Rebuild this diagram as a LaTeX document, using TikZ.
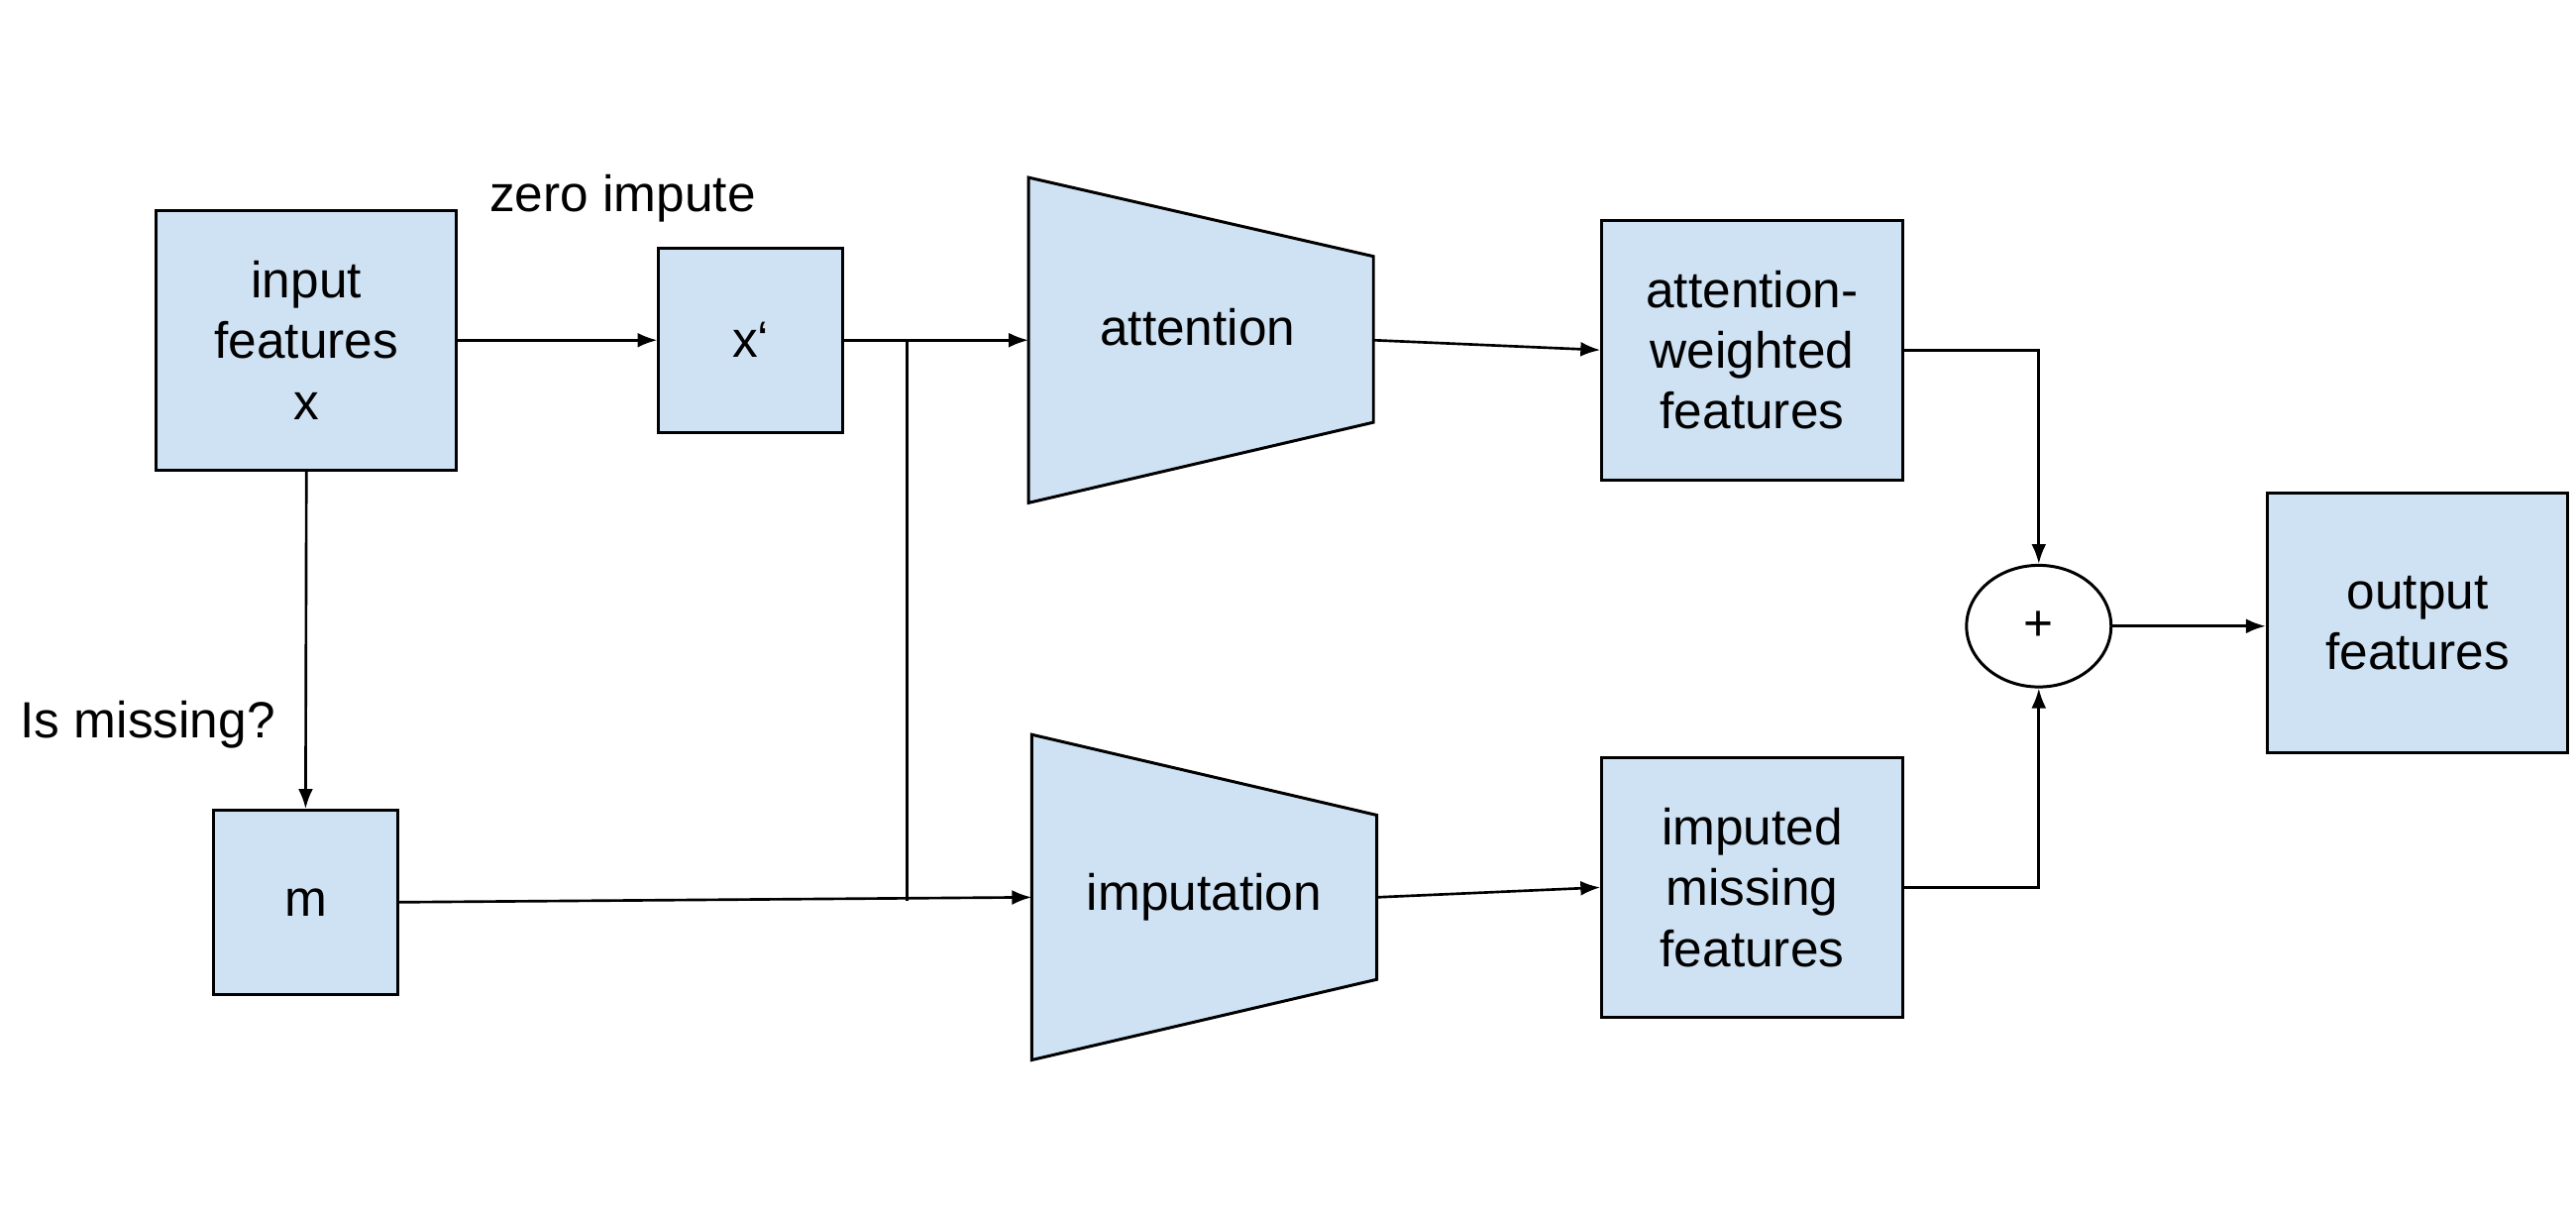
\documentclass[tikz,border=0pt]{standalone}
\usepackage{fontspec}
\setmainfont{Liberation Sans}
\usetikzlibrary{arrows.meta,shapes.geometric}
\definecolor{boxblue}{HTML}{CFE2F3}
\begin{document}
\begin{tikzpicture}[x=0.5pt,y=-0.5pt,
  every node/.style={font=\fontsize{15.5}{18.5}\selectfont},
  box/.style={draw,line width=0.9pt,fill=boxblue,align=center,inner sep=0pt},
  trap/.style={draw,line width=0.9pt,fill=boxblue},
  conn/.style={line width=0.8pt,-{Latex[length=6pt,width=4.5pt]}},
  line/.style={line width=0.8pt}]
\useasboundingbox (0,0) rectangle (1568,743);
\node[box,minimum width=91.5pt,minimum height=79pt] (in) at (186.5,207) {input\\features\\x};
\node[box,minimum width=56pt,minimum height=56pt] (xp) at (457,207) {x`};
\node[box,minimum width=56pt,minimum height=56pt] (m) at (186,549) {m};
\node[box,minimum width=91.5pt,minimum height=79pt] (aw) at (1066.5,213) {attention-\\weighted\\features};
\node[box,minimum width=91.5pt,minimum height=79pt] (im) at (1066.5,540) {imputed\\missing\\features};
\node[box,minimum width=91.5pt,minimum height=79pt] (out) at (1471.5,379) {output\\features};
\node[draw,ellipse,line width=0.9pt,fill=white,minimum width=44pt,minimum height=37pt,inner sep=0pt] (plus) at (1241,381) {+};
\draw[trap] (626,108) -- (836,156) -- (836,257) -- (626,306) -- cycle;
\node (att) at (729,199) {attention};
\draw[trap] (628,447) -- (838,496) -- (838,596) -- (628,645) -- cycle;
\node (imp) at (733,546) {imputation};
\coordinate (attL) at (626,207);
\coordinate (attR) at (836,207);
\coordinate (impL) at (628,546);
\coordinate (impR) at (838,546);
\coordinate (br) at (552,207);
\coordinate (bj) at (552,548);
\node (zl) at (379,121) {zero impute};
\node (ml) at (90,441) {Is missing?};
\draw[conn] (in.east) -- (xp.west);
\draw[conn] (xp.east) -- (attL);
\draw[line] (br) -- (bj);
\draw[conn] (m.east) -- (impL);
\draw[conn] (in.south) -- (m.north);
\draw[conn] (attR) -- (aw.west);
\draw[conn] (impR) -- (im.west);
\draw[conn] (aw.east) -| (plus.north);
\draw[conn] (im.east) -| (plus.south);
\draw[conn] (plus.east) -- (out.west |- plus.east);
\end{tikzpicture}
\end{document}
